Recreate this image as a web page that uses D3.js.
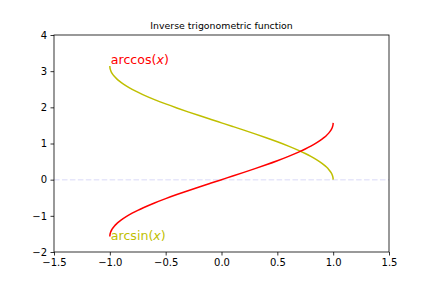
<!DOCTYPE html>
<html>
<head>
<meta charset="utf-8">
<script src="https://cdn.jsdelivr.net/npm/d3@7"></script>
<style>
  body { margin: 0; background: #fff; }
  svg text { font-family: "DejaVu Sans", sans-serif; }
</style>
</head>
<body>
<div id="chart"></div>
<script>
(function(){
    'use strict';

    // sample points, x from -1 to 1
    var xs = [-1, -0.999, -0.995, -0.99, -0.98, -0.96, -0.94, -0.92, -0.9, -0.85, -0.8, -0.75, -0.7,
              -0.6, -0.5, -0.4, -0.3, -0.2, -0.1, 0, 0.1, 0.2, 0.3, 0.4, 0.5, 0.6,
              0.7, 0.75, 0.8, 0.85, 0.9, 0.92, 0.94, 0.96, 0.98, 0.99, 0.995, 0.999, 1];
    var arcsinY = [-1.5708, -1.5261, -1.4706, -1.4293, -1.3705, -1.2870, -1.2226, -1.1681, -1.1198, -1.0160,
                   -0.9273, -0.8481, -0.7754, -0.6435, -0.5236, -0.4115, -0.3047, -0.2014, -0.1002, 0,
                   0.1002, 0.2014, 0.3047, 0.4115, 0.5236, 0.6435, 0.7754, 0.8481, 0.9273, 1.0160,
                   1.1198, 1.1681, 1.2226, 1.2870, 1.3705, 1.4293, 1.4706, 1.5261, 1.5708];
    var arccosY = [3.1416, 3.0969, 3.0414, 3.0001, 2.9413, 2.8578, 2.7934, 2.7389, 2.6906, 2.5868,
                   2.4981, 2.4189, 2.3462, 2.2143, 2.0944, 1.9823, 1.8755, 1.7722, 1.6710, 1.5708,
                   1.4706, 1.3694, 1.2661, 1.1593, 1.0472, 0.9273, 0.7954, 0.7227, 0.6435, 0.5548,
                   0.4510, 0.4027, 0.3482, 0.2838, 0.2003, 0.1415, 0.1002, 0.0447, 0];

    var xTicks = [-1.5, -1.0, -0.5, 0.0, 0.5, 1.0, 1.5];
    var yTicks = [-2, -1, 0, 1, 2, 3, 4];
    var xDomain = [-1.5, 1.5];
    var yDomain = [-2, 4];

    var labelNames = ["arccos", "arcsin"];
    var labelX = [-1, -1];
    var labelY = [3.21, -1.68];

    var width = 432, height = 288,
        left = 54, right = 389, top = 35, bottom = 252;

    var svg = d3.select('#chart').append('svg')
        .attr('width', width)
        .attr('height', height);

    var x = d3.scaleLinear().domain(xDomain).range([left, right]);
    var y = d3.scaleLinear().domain(yDomain).range([bottom, top]);

    var fmt = function(d) { return d3.format('.1f')(d).replace('-', '\u2212'); };
    var fmtY = function(d) { return String(d).replace('-', '\u2212'); };

    // zero line
    svg.append('line')
        .attr('x1', x(xDomain[0])).attr('x2', x(xDomain[1]))
        .attr('y1', y(0)).attr('y2', y(0))
        .attr('stroke', '#e6e6fa')
        .attr('stroke-width', 1.5)
        .attr('stroke-dasharray', '5.55,2.4');

    var line = d3.line()
        .x(function(d) { return x(d[0]); })
        .y(function(d) { return y(d[1]); })
        .curve(d3.curveMonotoneX);

    svg.append('path')
        .datum(d3.zip(xs, arccosY))
        .attr('d', line)
        .attr('fill', 'none')
        .attr('stroke', '#bfbf00')
        .attr('stroke-width', 1.5);

    svg.append('path')
        .datum(d3.zip(xs, arcsinY))
        .attr('d', line)
        .attr('fill', 'none')
        .attr('stroke', '#ff0000')
        .attr('stroke-width', 1.5);

    // labels (colours swapped as in the original)
    var labelColors = ['#ff0000', '#bfbf00'];
    labelNames.forEach(function(name, i) {
        var t = svg.append('text')
            .attr('x', x(labelX[i]) + 1)
            .attr('y', y(labelY[i]))
            .attr('fill', labelColors[i])
            .style('font-size', '12.6px');
        t.append('tspan').text(name + '(');
        t.append('tspan').style('font-style', 'italic').text('x');
        t.append('tspan').text(')');
    });

    // axes
    var xAxis = svg.append('g')
        .attr('transform', 'translate(0,' + bottom + ')')
        .call(d3.axisBottom(x).tickValues(xTicks).tickFormat(fmt).tickSizeInner(3.5).tickSizeOuter(0).tickPadding(3.5));
    var yAxis = svg.append('g')
        .attr('transform', 'translate(' + left + ',0)')
        .call(d3.axisLeft(y).tickValues(yTicks).tickFormat(fmtY).tickSizeInner(3.5).tickSizeOuter(0).tickPadding(3.5));
    [xAxis, yAxis].forEach(function(a) {
        a.select('.domain').remove();
        a.selectAll('text').style('font-family', '"DejaVu Sans", sans-serif').style('font-size', '10px').attr('fill', '#000');
        a.selectAll('line').attr('stroke', '#000').attr('stroke-width', 0.8);
    });

    // frame
    svg.append('rect')
        .attr('x', left).attr('y', top)
        .attr('width', right - left).attr('height', bottom - top)
        .attr('fill', 'none')
        .attr('stroke', '#000')
        .attr('stroke-width', 0.8);

    svg.append('text')
        .attr('x', (left + right) / 2)
        .attr('y', 28.5)
        .attr('text-anchor', 'middle')
        .style('font-size', '9.4px')
        .attr('fill', '#000')
        .text('Inverse trigonometric function');
})()
</script>
</body>
</html>
